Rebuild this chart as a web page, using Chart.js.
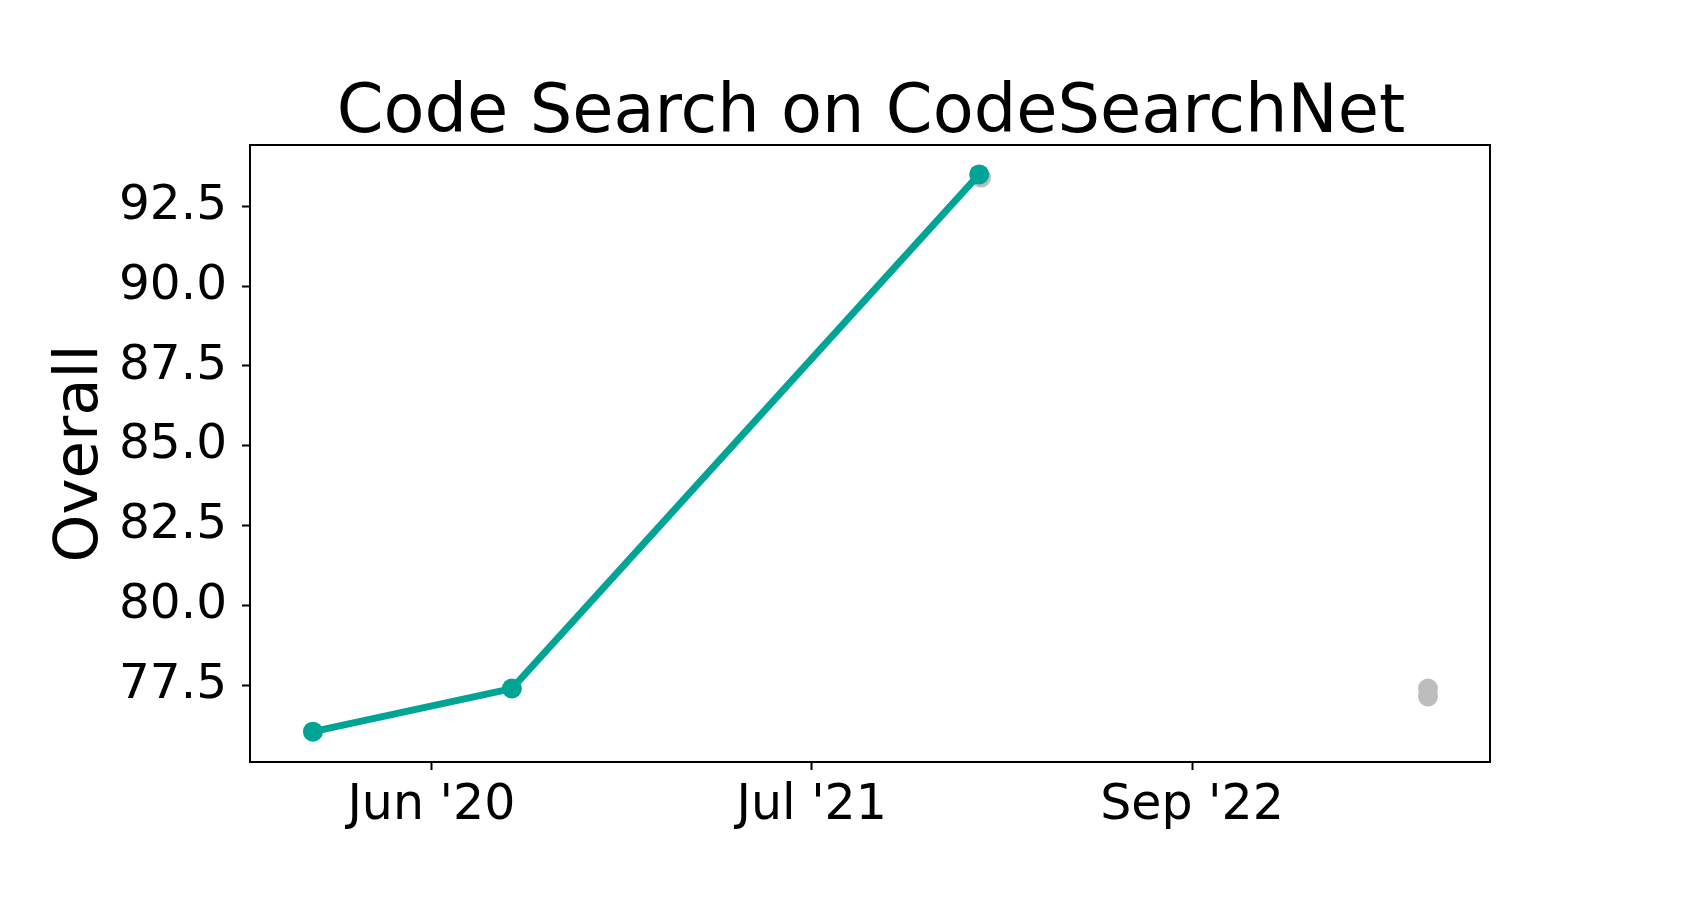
<!DOCTYPE html>
<html>
<head>
<meta charset="utf-8">
<title>Code Search on CodeSearchNet</title>
<script src="https://cdn.jsdelivr.net/npm/chart.js@4"></script>
<style>
    body { margin: 0; background: #fff; }
    #wrap { position: relative; width: 1700px; height: 900px; }
    #title {
        position: absolute;
        left: 271px;
        width: 1200px;
        top: 76px;
        text-align: center;
        font-family: 'DejaVu Sans', sans-serif;
        font-size: 67px;
        line-height: 67px;
        color: #000;
        white-space: nowrap;
    }
</style>
</head>
<body>
<div id="wrap">
    <canvas id="chart" width="1700" height="900"></canvas>
    <div id="title">Code Search on CodeSearchNet</div>
</div>
<script>
// ===== DATA =====
const sotaDates = ["2020-02-08", "2020-09-10", "2022-01-28"];
const sotaValues = [76.05, 77.4, 93.5];

const otherDates = ["2022-01-30", "2023-05-28", "2023-05-28"];
const otherValues = [93.4, 77.4, 77.15];

const xTickDates = ["2020-06-15", "2021-07-31", "2022-09-15"];
const xTickLabels = ["Jun '20", "Jul '21", "Sep '22"];
const yTicks = [77.5, 80.0, 82.5, 85.0, 87.5, 90.0, 92.5];

const xRange = ["2019-12-02", "2023-08-03"];
const yRange = [75.1, 94.42];

// ===== HELPERS =====
function dayNum(s) {
    const p = s.split("-").map(Number);
    return Date.UTC(p[0], p[1] - 1, p[2]) / 86400000;
}

function toPoints(dates, values) {
    return dates.map((d, i) => ({ x: dayNum(d), y: values[i] }));
}

const xTickValues = xTickDates.map(dayNum);

// ===== FRAME =====
const framePlugin = {
    id: "frame",
    afterDraw(chart) {
        const a = chart.chartArea;
        const ctx = chart.ctx;
        ctx.save();
        ctx.strokeStyle = "#000";
        ctx.lineWidth = 2;
        ctx.strokeRect(a.left, a.top, a.right - a.left, a.bottom - a.top);
        ctx.restore();
    }
};

// ===== CHART =====
const GREEN = "#00a495";
const GRAY = "#bdbdbd";
const FONT = "'DejaVu Sans', sans-serif";

new Chart(document.getElementById("chart"), {
    type: "line",
    data: {
        datasets: [
            {
                label: "SOTA",
                data: toPoints(sotaDates, sotaValues),
                borderColor: GREEN,
                backgroundColor: GREEN,
                borderWidth: 7,
                pointRadius: 10,
                pointBorderWidth: 0,
                pointBackgroundColor: GREEN,
                tension: 0
            },
            {
                label: "Other",
                data: toPoints(otherDates, otherValues),
                showLine: false,
                pointRadius: 10,
                pointBorderWidth: 0,
                pointBackgroundColor: GRAY,
                borderColor: GRAY
            }
        ]
    },
    options: {
        responsive: false,
        animation: false,
        devicePixelRatio: 1,
        layout: { padding: { left: 0, right: 210, top: 145, bottom: 0 } },
        plugins: {
            legend: { display: false },
            tooltip: { enabled: false },
            title: { display: false }
        },
        scales: {
            x: {
                type: "linear",
                min: dayNum(xRange[0]),
                max: dayNum(xRange[1]),
                afterBuildTicks(scale) {
                    scale.ticks = xTickValues.map(v => ({ value: v }));
                },
                afterFit(scale) { scale.height = 138; },
                grid: {
                    drawOnChartArea: false,
                    drawTicks: true,
                    tickLength: 8,
                    tickWidth: 2,
                    tickColor: "#000"
                },
                border: { display: true, color: "#000", width: 2 },
                ticks: {
                    color: "#000",
                    font: { family: FONT, size: 49 },
                    padding: 7,
                    maxRotation: 0,
                    autoSkip: false,
                    callback: (v) => {
                        const i = xTickValues.indexOf(v);
                        return i >= 0 ? xTickLabels[i] : "";
                    }
                }
            },
            y: {
                min: yRange[0],
                max: yRange[1],
                afterBuildTicks(scale) {
                    scale.ticks = yTicks.map(v => ({ value: v }));
                },
                afterFit(scale) { scale.width = 250; },
                grid: {
                    drawOnChartArea: false,
                    drawTicks: true,
                    tickLength: 8,
                    tickWidth: 2,
                    tickColor: "#000"
                },
                border: { display: true, color: "#000", width: 2 },
                ticks: {
                    color: "#000",
                    font: { family: FONT, size: 48.5 },
                    padding: 15,
                    autoSkip: false,
                    callback: (v) => v.toFixed(1)
                },
                title: {
                    display: true,
                    text: "Overall",
                    color: "#000",
                    font: { family: FONT, size: 61, lineHeight: 1.2 },
                    padding: { top: 45, bottom: 0 }
                }
            }
        }
    },
    plugins: [framePlugin]
});
</script>
</body>
</html>
